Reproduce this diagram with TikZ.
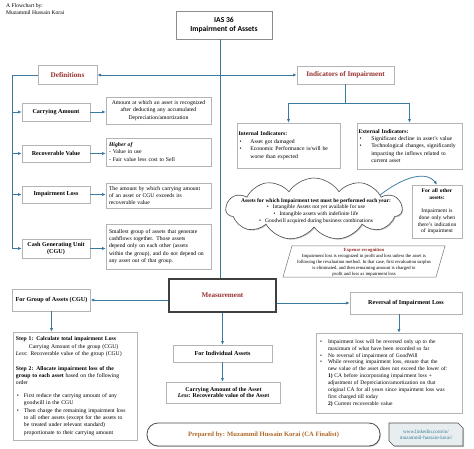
\documentclass[tikz,border=0pt]{standalone}
\usepackage{fontspec}
\setmainfont{Liberation Serif}
\newfontfamily\ttlfont{Carlito}
\usetikzlibrary{arrows.meta,shapes.symbols,shadows}
\definecolor{lnk}{RGB}{58,122,162}
\definecolor{dred}{RGB}{150,48,46}
\definecolor{bord}{RGB}{180,180,180}
\definecolor{prepc}{RGB}{176,104,40}
\definecolor{linkc}{RGB}{50,125,150}
\definecolor{linkfill}{RGB}{232,237,240}
\newcommand\bodyf{\fontsize{5.7}{7.2}\selectfont}
\newcommand\lblf{\fontsize{6.1}{7.2}\selectfont\bfseries}
\newcommand\headf{\fontsize{7.2}{8.6}\selectfont\bfseries}
\newcommand\bbl[1][7pt]{\makebox[#1][l]{\hspace{1pt}\textbullet}}
\newcommand\bgap[1][7pt]{\makebox[#1]{}}
\tikzset{
  conn/.style={draw=lnk, line width=0.75pt},
  arr/.style={conn, -{Latex[length=3.6pt,width=3.2pt]}},
  box/.style={draw=bord, fill=white, line width=0.6pt, inner xsep=3pt, inner ysep=1pt,
     drop shadow={shadow xshift=0.9pt, shadow yshift=-0.9pt, opacity=0.22, fill=black}},
  lbl/.style={box, font=\lblf, align=center},
  head/.style={box, font=\headf, text=dred, align=center},
  desc/.style={box, font=\bodyf, text width=99pt},
}
\begin{document}
\begin{tikzpicture}[x=1pt,y=-1pt]
\useasboundingbox (0,0) rectangle (474,449);
\fill[white] (0,0) rectangle (474,449);

\node[anchor=north west, inner sep=0pt, align=left, font=\fontsize{5.6}{7.4}\selectfont] (author) at (6,3.5) {A Flowchart by:\\Muzammil Hussain Korai};

\node[box, draw=black!45, minimum width=96pt, minimum height=28pt, align=center,
      font=\ttlfont\bfseries\fontsize{7.6}{9.4}\selectfont] (ias) at (224,25) {IAS 36\\Impairment of Assets};

\node[head, minimum width=59pt, minimum height=19pt] (defs) at (67.5,75) {Definitions};
\node[head, minimum width=97pt, minimum height=18pt] (ind) at (345.5,75) {Indicators of Impairment};

% definitions
\node[lbl, minimum width=68pt, minimum height=18pt] (ca) at (56,112) {Carrying Amount};
\node[lbl, minimum width=68pt, minimum height=17pt] (rv) at (56,153.5) {Recoverable Value};
\node[lbl, minimum width=68pt, minimum height=17pt] (il) at (56,194.5) {Impairment Loss};
\node[lbl, minimum width=68pt, minimum height=19pt] (cgu) at (56,248.5) {Cash Generating Unit\\(CGU)};

\node[desc, align=center, minimum height=27pt] (cad) at (158.5,110.5) {Amount at which an asset is recognized\\after deducting any accumulated\\Depreciation/amortization};
\node[desc, align=left, minimum height=28pt] (rvd) at (158.5,152) {\textbf{\textit{Higher of}}\\- Value in use\\- Fair value less cost to Sell};
\node[desc, align=left, minimum height=25pt] (ild) at (158.5,195.5) {The amount by which carrying amount\\of an asset or CGU exceeds its\\recoverable value};
\node[desc, align=left, minimum height=45pt] (cgud) at (158.5,246.5) {Smallest group of assets that generate\\cashflows together. Those assets\\depend only on each other (assets\\within the group), and do not depend on\\any asset out of that group.};

% indicators
\node[box, inner xsep=1.5pt, text width=100pt, minimum height=45pt, align=left, font=\bodyf] (intl) at (288.5,145.5)
 {\textbf{Internal Indicators:}\\[1pt]\bbl[10pt] Asset got damaged\\\bbl[10pt] Economic Performance is/will be\\\bgap[10pt] worse than expected};
\node[box, inner xsep=1.5pt, text width=102pt, minimum height=46pt, align=left, font=\bodyf] (ext) at (409.5,146)
 {\textbf{External Indicators:}\\\bbl[11pt] Significant decline in asset's value\\\bbl[11pt] Technological changes, significantly\\\bgap[11pt] impacting the inflows related to\\\bgap[11pt] current asset};

% cloud
\node[cloud, cloud puffs=11, cloud puff arc=115, cloud ignores aspect, draw=black!70, fill=white, line width=0.6pt,
      minimum width=176pt, minimum height=62pt,
      drop shadow={shadow xshift=0.9pt, shadow yshift=-0.9pt, opacity=0.22, fill=black}] (cloud) at (314,209) {};
\node[align=center, inner sep=0pt, font=\fontsize{5.5}{6.7}\selectfont] (cloudtxt) at (316,211)
 {\textbf{Assets for which Impairment test must be performed each year:}\\
  \textbullet\hspace{4pt}Intangible Assets not yet available for use\\
  \textbullet\hspace{4pt}Intangible assets with indefinite life\\
  \textbullet\hspace{4pt}Goodwill acquired during business combinations};

\node[box, inner xsep=1pt, text width=48pt, minimum height=53pt, align=center, font=\fontsize{5.5}{6.8}\selectfont] (other) at (437,211.5)
 {\textbf{For all other}\\\textbf{assets:}\\[6pt]Impairment is\\done only when\\there's indication\\of impairment};

% expense recognition
\draw[draw=black!55, line width=0.5pt, fill=white] (283,277) -- (292,246) -- (445,246) -- (436,277) -- cycle;
\node[align=center, inner sep=0pt, font=\fontsize{4.7}{6}\selectfont] (exp) at (364,262)
 {\textcolor{dred}{\textbf{Expense recognition}}\\
  Impairment loss is recognized in profit and loss unless the asset is\\
  following the revaluation method. In that case, first revaluation surplus\\
  is eliminated, and then remaining amount is charged to\\
  profit and loss as impairment loss};

% measurement
\node[box, draw=black!75, line width=1.2pt, minimum width=107pt, minimum height=33pt,
      font=\fontsize{7.1}{8.5}\selectfont\bfseries, text=dred] (meas) at (222.5,295.5) {Measurement};

\node[lbl, minimum width=77pt, minimum height=22pt] (grp) at (51.5,300) {For Group of Assets (CGU)};
\node[lbl, minimum width=112pt, minimum height=22pt] (rev) at (406,303) {Reversal of Impairment Loss};
\node[lbl, minimum width=99pt, minimum height=17pt] (indiv) at (222.5,353.5) {For Individual Assets};
\node[lbl, minimum width=114pt, minimum height=21pt, font=\fontsize{5.9}{6.9}\selectfont\bfseries] (caa) at (223.5,392.5)
 {Carrying Amount of the Asset\\\textit{Less}: Recoverable value of the Asset};

\node[box, text width=118pt, minimum height=108pt, align=left, font=\fontsize{5.7}{7.3}\selectfont] (step) at (75,386)
 {\textbf{Step 1: Calculate total impairment Loss}\\
  \bgap[13pt]Carrying Amount of the group (CGU)\\
  \textit{Less}: Recoverable value of the group (CGU)\\[7.5pt]
  \textbf{Step 2: Allocate impairment loss of the}\\
  \textbf{group to each asset} based on the following\\
  order\\[5.5pt]
  \bbl[8pt]First reduce the carrying amount of any\\
  \bgap[8pt]goodwill in the CGU\\
  \bbl[8pt]Then charge the remaining impairment loss\\
  \bgap[8pt]to all other assets (except for the assets to\\
  \bgap[8pt]be treated under relevant standard)\\
  \bgap[8pt]proportionate to their carrying amount};

\node[box, text width=140pt, minimum height=80pt, align=left, font=\fontsize{5.5}{6.9}\selectfont] (revl) at (389,373)
 {\bbl[9pt]Impairment loss will be reversed only up to the\\
  \bgap[9pt]maximum of what have been recorded so far\\
  \bbl[9pt]No reversal of impairment of GoodWill\\
  \bbl[9pt]While reversing impairment loss, ensure that the\\
  \bgap[9pt]new value of the asset does not exceed the lower of:\\
  \bgap[9pt]\textbf{1)} CA before incorporating impairment loss +\\
  \bgap[9pt]adjustment of Depreciation/amortization on that\\
  \bgap[9pt]original CA for all years since impairment loss was\\
  \bgap[9pt]first charged till today\\
  \bgap[9pt]\textbf{2)} Current recoverable value};

% footer
\node[draw=black!70, line width=0.8pt, fill=white, rounded corners=11pt, minimum width=233pt, minimum height=23pt,
      drop shadow={shadow xshift=0.9pt, shadow yshift=-0.9pt, opacity=0.2, fill=black},
      font=\fontsize{6.6}{8}\selectfont\bfseries, text=prepc] (prep) at (263.5,434.5)
 {Prepared by: Muzammil Hussain Korai (CA Finalist)};
\fill[black, opacity=0.2] (390,424) -- (459,424) -- (464,429) -- (464,447) -- (395,447) -- (390,442) -- cycle;
\draw[draw=black!70, line width=0.7pt, fill=linkfill] (389,423) -- (458,423) -- (463,428) -- (463,446) -- (394,446) -- (389,441) -- cycle;
\node[align=center, inner sep=0pt, text=linkc, font=\fontsize{5.1}{6.4}\selectfont] (link) at (426,434.5)
 {www.linkedin.com/in/\\muzammil-hussain-korai/};

% connectors
\coordinate (trunk) at (220,75);
\draw[conn] (ias.south -| trunk) -- (meas.north -| trunk);
\draw[arr] (trunk) -- (defs.east);
\draw[arr] (trunk) -- (ind.west);

\coordinate (bus) at (12,75);
\draw[arr] (defs.west) -- (bus) -- (bus |- cgu.west) -- (cgu.west);
\draw[arr] (bus |- ca.west) -- (ca.west);
\draw[arr] (bus |- rv.west) -- (rv.west);
\draw[arr] (bus |- il.west) -- (il.west);

\draw[arr] (ca.east) -- (ca.east -| cad.west);
\draw[arr] (rv.east) -- (rv.east -| rvd.west);
\draw[arr] (il.east) -- (il.east -| ild.west);
\draw[arr] (cgu.east) -- (cgu.east -| cgud.west);

\coordinate (indj) at (345.5,103);
\draw[conn] (ind.south) -- (indj);
\draw[arr] (indj) -| (intl.north);
\draw[arr] (indj) -| (ext.north);

\draw[arr] (cloud.12) .. controls (407,174) and (428,172) .. (other.north);

\draw[arr] (meas.west |- grp.east) -- (grp.east);
\draw[arr] (meas.east |- rev.west) -- (rev.west);
\draw[arr] (meas.south) -- (indiv.north);
\draw[arr] (indiv.south) -- (indiv.south |- caa.north);
\draw[arr] (grp.south) -- (grp.south |- step.north);
\draw[arr] ([xshift=-7pt]rev.south) -- ([xshift=-7pt]rev.south |- revl.north);
\end{tikzpicture}
\end{document}
